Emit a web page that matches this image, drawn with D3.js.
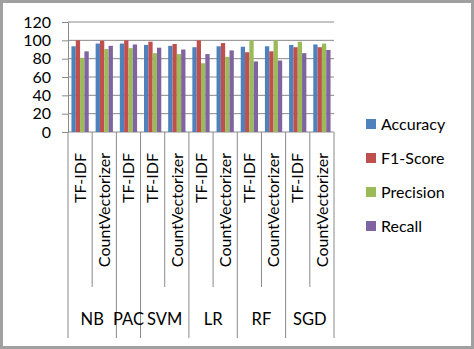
<!DOCTYPE html>
<html><head><meta charset="utf-8">
<script src="https://cdn.jsdelivr.net/npm/d3@7"></script>
<style>
html,body{margin:0;padding:0;background:#fff;}
svg{display:block;font-family:Lato,"Noto Sans",sans-serif;}
</style></head>
<body><svg id="c" width="474" height="349"></svg>
<script>
const categories = ["TF-IDF","CountVectorizer","TF-IDF","TF-IDF","CountVectorizer","TF-IDF","CountVectorizer","TF-IDF","CountVectorizer","TF-IDF","CountVectorizer"];
const models = ["NB","NB","PAC","SVM","SVM","LR","LR","RF","RF","SGD","SGD"];
const seriesNames = ["Accuracy","F1-Score","Precision","Recall"];
const accuracy  = [93.5, 96.5, 96.5, 95, 94, 92.5, 93.5, 93, 93.5, 95, 95.5];
const f1score   = [100, 99.5, 100, 98.5, 96, 100, 97, 87, 88, 92.5, 92.5];
const precision = [81, 90.5, 91.5, 86, 85, 75, 82, 100, 100, 98.5, 96.5];
const recall    = [88, 94, 95.5, 92, 90, 85, 89, 77, 78, 86, 89.5];
const yTicks = [0,20,40,60,80,100,120];
const colors = ["#4F81BD","#C0504D","#9BBB59","#8064A2"];

(function(){
const series = [accuracy, f1score, precision, recall];
const svg = d3.select("#c");
const W = 474, H = 349;
const mLeft = 68, mRight = 334, mTop = 22, mBottom = 132;
const gridCol = "#898989";

// outer frame
svg.append("rect").attr("x",1.5).attr("y",1.5).attr("width",W-3).attr("height",H-3)
  .attr("fill","none").attr("stroke","#a0a0a0").attr("stroke-width",3);

const idx = categories.map((d,i)=>i);
const x0 = d3.scaleBand().domain(idx).range([mLeft, mRight]).paddingInner(0).paddingOuter(0);
const x1 = d3.scaleBand().domain(d3.range(series.length)).range([0, x0.bandwidth()]).paddingInner(0).paddingOuter(0.8);
const y = d3.scaleLinear().domain([0,120]).range([mBottom, mTop]);

// gridlines + ticks
const yAxis = d3.axisLeft(y).tickValues(yTicks).tickSize(6).tickSizeOuter(0).tickPadding(11);
const ga = svg.append("g").attr("transform",`translate(${mLeft},0)`).call(yAxis);
ga.select(".domain").attr("stroke",gridCol);
ga.selectAll(".tick line").attr("stroke",gridCol);
ga.selectAll(".tick text").attr("font-size",16).attr("fill","#000").attr("font-family","Lato");
svg.append("g").selectAll("line").data(yTicks).join("line")
  .attr("x1",mLeft).attr("x2",mRight).attr("y1",d=>y(d)).attr("y2",d=>y(d))
  .attr("stroke",gridCol).attr("stroke-width",1);

// bars
const g = svg.append("g");
idx.forEach(i=>{
  series.forEach((s,k)=>{
    g.append("rect")
      .attr("x", x0(i)+x1(k))
      .attr("width", x1.bandwidth())
      .attr("y", y(s[i]))
      .attr("height", y(0)-y(s[i]))
      .attr("fill", colors[k]);
  });
});

// category separators
const bounds = d3.range(categories.length+1);
bounds.forEach(b=>{
  const xb = b < categories.length ? x0(b) : x0(categories.length-1)+x0.bandwidth();
  const isModel = b===0 || b===categories.length || models[b]!==models[b-1];
  svg.append("line").attr("x1",xb).attr("x2",xb).attr("y1",mBottom).attr("y2", isModel?338:287)
    .attr("stroke",gridCol).attr("stroke-width",1);
});

// inner labels
idx.forEach(i=>{
  const cx = x0(i)+x0.bandwidth()/2;
  svg.append("text").attr("transform",`translate(${cx},153) rotate(-90)`)
    .attr("text-anchor","end").attr("dy","0.36em").attr("font-size",16).attr("fill","#000")
    .text(categories[i]);
});

// model labels
const modelList = Array.from(new Set(models));
modelList.forEach(m=>{
  const ids = idx.filter(i=>models[i]===m);
  const xa = x0(ids[0]), xb = x0(ids[ids.length-1])+x0.bandwidth();
  svg.append("text").attr("x",(xa+xb)/2).attr("y",325).attr("text-anchor","middle")
    .attr("font-size",16.5).attr("fill","#000").text(m);
});

// legend
const ly = [124,158,192,226];
seriesNames.forEach((n,k)=>{
  svg.append("rect").attr("x",366).attr("y",ly[k]-5).attr("width",10).attr("height",10).attr("fill",colors[k]);
  svg.append("text").attr("x",381).attr("y",ly[k]).attr("dy","0.35em").attr("font-size",16).attr("fill","#000").text(n);
});
})();
</script></body></html>
